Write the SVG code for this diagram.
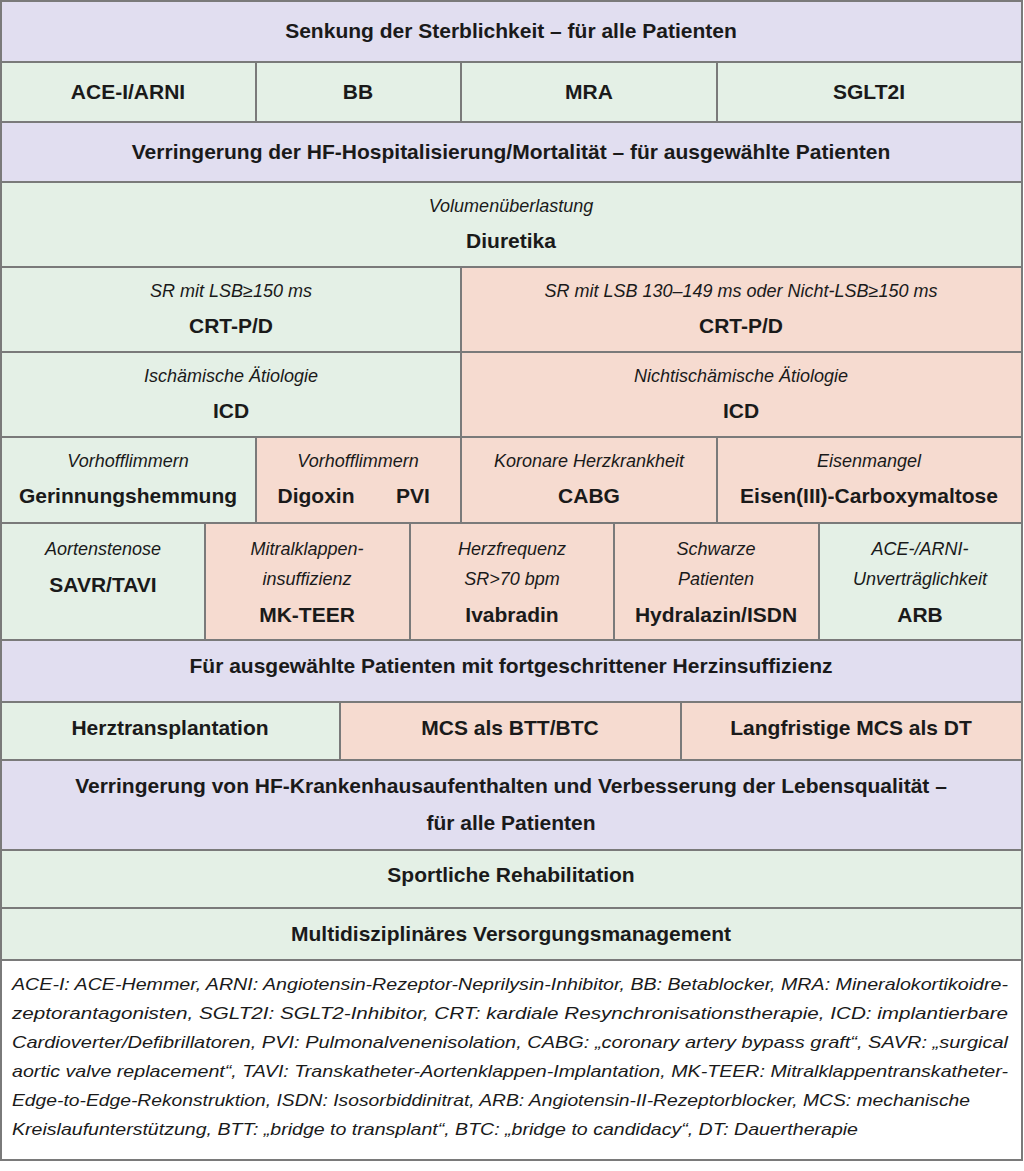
<svg xmlns="http://www.w3.org/2000/svg" width="1024" height="1171" viewBox="0 0 1024 1171">
<style>
.p{fill:#e1def0;stroke:#7a7a7a;stroke-width:2}
.g{fill:#e4f0e6;stroke:#7a7a7a;stroke-width:2}
.s{fill:#f6dbd0;stroke:#7a7a7a;stroke-width:2}
.w{fill:#fff;stroke:#7a7a7a;stroke-width:2}
text{font-family:"Liberation Sans",Arial,sans-serif;fill:#1a1a1a;text-anchor:middle}
.b{font-weight:bold;font-size:21px}
.i{font-style:italic;font-size:18px}
.l{font-style:italic;font-size:16.5px;text-anchor:start}
</style>
<rect width="1024" height="1171" fill="#fff"/>
<g id="r1"><rect class="p" x="1" y="1" width="1021" height="61"/><text class="b" x="511" y="38">Senkung der Sterblichkeit – für alle Patienten</text></g>
<g id="r2">
<rect class="g" x="1" y="62" width="255" height="60"/><text class="b" x="128" y="99">ACE-I/ARNI</text>
<rect class="g" x="256" y="62" width="205" height="60"/><text class="b" x="358" y="99">BB</text>
<rect class="g" x="461" y="62" width="256" height="60"/><text class="b" x="589" y="99">MRA</text>
<rect class="g" x="717" y="62" width="305" height="60"/><text class="b" x="869" y="99">SGLT2I</text>
</g>
<g id="r3"><rect class="p" x="1" y="122" width="1021" height="60"/><text class="b" x="511" y="159">Verringerung der HF-Hospitalisierung/Mortalität – für ausgewählte Patienten</text></g>
<g id="r4"><rect class="g" x="1" y="182" width="1021" height="85"/><text class="i" x="511" y="212">Volumenüberlastung</text><text class="b" x="511" y="248">Diuretika</text></g>
<g id="r5">
<rect class="g" x="1" y="267" width="460" height="85"/><text class="i" x="231" y="297">SR mit LSB≥150 ms</text><text class="b" x="231" y="333">CRT-P/D</text>
<rect class="s" x="461" y="267" width="561" height="85"/><text class="i" x="741" y="297">SR mit LSB 130–149 ms oder Nicht-LSB≥150 ms</text><text class="b" x="741" y="333">CRT-P/D</text>
</g>
<g id="r6">
<rect class="g" x="1" y="352" width="460" height="85"/><text class="i" x="231" y="382">Ischämische Ätiologie</text><text class="b" x="231" y="418">ICD</text>
<rect class="s" x="461" y="352" width="561" height="85"/><text class="i" x="741" y="382">Nichtischämische Ätiologie</text><text class="b" x="741" y="418">ICD</text>
</g>
<g id="r7">
<rect class="g" x="1" y="437" width="255" height="86"/><text class="i" x="128" y="467">Vorhofflimmern</text><text class="b" x="128" y="503">Gerinnungshemmung</text>
<rect class="s" x="256" y="437" width="205" height="86"/><text class="i" x="358" y="467">Vorhofflimmern</text><text class="b" x="316" y="503">Digoxin</text><text class="b" x="413" y="503">PVI</text>
<rect class="s" x="461" y="437" width="256" height="86"/><text class="i" x="589" y="467">Koronare Herzkrankheit</text><text class="b" x="589" y="503">CABG</text>
<rect class="s" x="717" y="437" width="305" height="86"/><text class="i" x="869" y="467">Eisenmangel</text><text class="b" x="869" y="503">Eisen(III)-Carboxymaltose</text>
</g>
<g id="r8">
<rect class="g" x="1" y="523" width="204" height="117"/><text class="i" x="103" y="555">Aortenstenose</text><text class="b" x="103" y="592">SAVR/TAVI</text>
<rect class="s" x="205" y="523" width="205" height="117"/><text class="i" x="307" y="555">Mitralklappen-</text><text class="i" x="307" y="585">insuffizienz</text><text class="b" x="307" y="622">MK-TEER</text>
<rect class="s" x="410" y="523" width="204" height="117"/><text class="i" x="512" y="555">Herzfrequenz</text><text class="i" x="512" y="585">SR&gt;70 bpm</text><text class="b" x="512" y="622">Ivabradin</text>
<rect class="s" x="614" y="523" width="205" height="117"/><text class="i" x="716" y="555">Schwarze</text><text class="i" x="716" y="585">Patienten</text><text class="b" x="716" y="622">Hydralazin/ISDN</text>
<rect class="g" x="819" y="523" width="203" height="117"/><text class="i" x="920" y="555">ACE-/ARNI-</text><text class="i" x="920" y="585">Unverträglichkeit</text><text class="b" x="920" y="622">ARB</text>
</g>
<g id="r9"><rect class="p" x="1" y="640" width="1021" height="62"/><text class="b" x="511" y="673">Für ausgewählte Patienten mit fortgeschrittener Herzinsuffizienz</text></g>
<g id="r10">
<rect class="g" x="1" y="702" width="339" height="58"/><text class="b" x="170" y="735">Herztransplantation</text>
<rect class="s" x="340" y="702" width="341" height="58"/><text class="b" x="510" y="735">MCS als BTT/BTC</text>
<rect class="s" x="681" y="702" width="341" height="58"/><text class="b" x="851" y="735">Langfristige MCS als DT</text>
</g>
<g id="r11"><rect class="p" x="1" y="760" width="1021" height="90"/><text class="b" x="511" y="793">Verringerung von HF-Krankenhausaufenthalten und Verbesserung der Lebensqualität –</text><text class="b" x="511" y="830">für alle Patienten</text></g>
<g id="r12"><rect class="g" x="1" y="850" width="1021" height="58"/><text class="b" x="511" y="882">Sportliche Rehabilitation</text></g>
<g id="r13"><rect class="g" x="1" y="908" width="1021" height="52"/><text class="b" x="511" y="941">Multidisziplinäres Versorgungsmanagement</text></g>
<g id="legend"><rect class="w" x="1" y="960" width="1021" height="200"/>
<text class="l" x="12" y="990" textLength="996" lengthAdjust="spacingAndGlyphs">ACE-I: ACE-Hemmer, ARNI: Angiotensin-Rezeptor-Neprilysin-Inhibitor, BB: Betablocker, MRA: Mineralokortikoidre-</text>
<text class="l" x="12" y="1019" textLength="996" lengthAdjust="spacingAndGlyphs">zeptorantagonisten, SGLT2I: SGLT2-Inhibitor, CRT: kardiale Resynchronisationstherapie, ICD: implantierbare</text>
<text class="l" x="12" y="1048" textLength="996" lengthAdjust="spacingAndGlyphs">Cardioverter/Defibrillatoren, PVI: Pulmonalvenenisolation, CABG: „coronary artery bypass graft“, SAVR: „surgical</text>
<text class="l" x="12" y="1077" textLength="996" lengthAdjust="spacingAndGlyphs">aortic valve replacement“,  TAVI: Transkatheter-Aortenklappen-Implantation, MK-TEER: Mitralklappentranskatheter-</text>
<text class="l" x="12" y="1106" textLength="958" lengthAdjust="spacingAndGlyphs">Edge-to-Edge-Rekonstruktion, ISDN: Isosorbiddinitrat, ARB: Angiotensin-II-Rezeptorblocker, MCS: mechanische</text>
<text class="l" x="12" y="1135" textLength="846" lengthAdjust="spacingAndGlyphs">Kreislaufunterstützung, BTT: „bridge to transplant“, BTC: „bridge to candidacy“, DT: Dauertherapie</text>
</g>
</svg>
